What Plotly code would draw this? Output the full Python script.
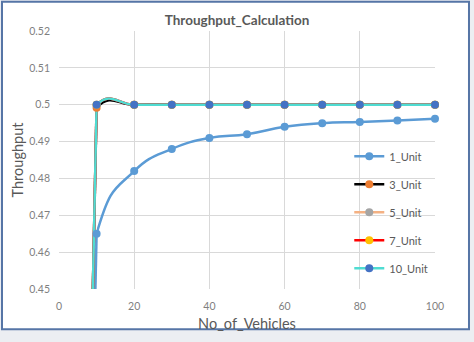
import plotly.graph_objects as go

# Number of vehicles in the simulation runs
vehicles = [0, 10, 20, 30, 40, 50, 60, 70, 80, 90, 100]

# Throughput per configuration
unit_1 = [0.0, 0.465, 0.482, 0.488, 0.491, 0.492, 0.494, 0.495, 0.4953, 0.4957, 0.4962]
unit_3 = [0.0, 0.4992, 0.5, 0.5, 0.5, 0.5, 0.5, 0.5, 0.5, 0.5, 0.5]
unit_5 = [0.0, 0.5, 0.5, 0.5, 0.5, 0.5, 0.5, 0.5, 0.5, 0.5, 0.5]
unit_7 = [0.0, 0.5, 0.5, 0.5, 0.5, 0.5, 0.5, 0.5, 0.5, 0.5, 0.5]
unit_10 = [0.0, 0.5, 0.5, 0.5, 0.5, 0.5, 0.5, 0.5, 0.5, 0.5, 0.5]

x_ticks = [0, 20, 40, 60, 80, 100]
y_ticks = [0.45, 0.46, 0.47, 0.48, 0.49, 0.5, 0.51, 0.52]
x_range = [0, 100]
y_range = [0.45, 0.52]

series = [
    ("1_Unit", unit_1, "#5B9BD5", "#5B9BD5"),
    ("3_Unit", unit_3, "#000000", "#ED7D31"),
    ("5_Unit", unit_5, "#F4B183", "#A5A5A5"),
    ("7_Unit", unit_7, "#FF0000", "#FFC000"),
    ("10_Unit", unit_10, "#4FDCD2", "#4472C4"),
]

FONT = "Lato, 'Open Sans', sans-serif"
GREY = "#595959"
LINE_W = 2.5

fig = go.Figure()

# Rising segment from the origin up to the first sample, drawn straight
for name, vals, line_col, _ in series:
    fig.add_trace(go.Scatter(
        x=vehicles[:2], y=vals[:2], mode="lines", showlegend=False,
        hoverinfo="skip", line=dict(color=line_col, width=LINE_W),
    ))

# Smoothed curves from the first sample onwards; they live on a second
# subplot whose area starts at x = 10 so the curve is clipped there.
for i, (name, vals, line_col, mark_col) in enumerate(series):
    fig.add_trace(go.Scatter(
        x=vehicles, y=vals, name=name, mode="lines+markers",
        xaxis="x2", yaxis="y2", cliponaxis=False,
        line=dict(color=line_col, width=LINE_W, shape="spline", smoothing=1.3),
        marker=dict(color=mark_col, size=8),
        legendgroup=f"g{i}",
    ))

split_frac = (vehicles[1] - x_range[0]) / (x_range[1] - x_range[0])

fig.update_layout(
    width=474, height=342,
    margin=dict(l=59, r=39, t=31, b=45),
    paper_bgcolor="#ECEEF2",
    plot_bgcolor="rgba(0,0,0,0)",
    font=dict(family=FONT, color=GREY, size=10),
    title=dict(text="<b>Throughput_Calculation</b>", x=0.5, xanchor="center",
               y=0.942, yanchor="middle", font=dict(size=13.5, color=GREY, family=FONT)),
    showlegend=True,
    legend=dict(x=0.772, xanchor="left", y=0.297, yanchor="middle",
                bgcolor="rgba(0,0,0,0)", font=dict(size=11, color=GREY),
                tracegroupgap=9, traceorder="grouped", itemwidth=30),
    shapes=[dict(type="rect", xref="paper", yref="paper", layer="below",
                 x0=-0.1516, x1=1.0904, y0=-0.156, y1=1.113,
                 fillcolor="white", line=dict(color="#5675A6", width=2))],
    xaxis=dict(
        domain=[0, 1], range=x_range, tickvals=x_ticks, showgrid=True,
        gridcolor="#D9D9D9", gridwidth=1, zeroline=False, showline=False,
        ticks="", ticklabelstandoff=9,
        tickfont=dict(size=10.5, color="#7F7F7F"),
        title=dict(text="No_of_Vehicles", font=dict(size=14.5, color=GREY), standoff=8),
    ),
    yaxis=dict(
        domain=[0, 1], range=y_range, tickvals=y_ticks, showgrid=True,
        gridcolor="#D9D9D9", gridwidth=1, zeroline=False, showline=False,
        ticks="", ticklabelstandoff=8,
        tickfont=dict(size=10.5, color="#7F7F7F"),
        title=dict(text="Throughput", font=dict(size=14.5, color=GREY), standoff=2),
    ),
    xaxis2=dict(domain=[split_frac, 1], range=[vehicles[1], x_range[1]],
                anchor="y2", visible=False, showgrid=False, zeroline=False),
    yaxis2=dict(domain=[0, 1], range=y_range, anchor="x2", visible=False,
                showgrid=False, zeroline=False),
)

fig.write_html("out.html")
